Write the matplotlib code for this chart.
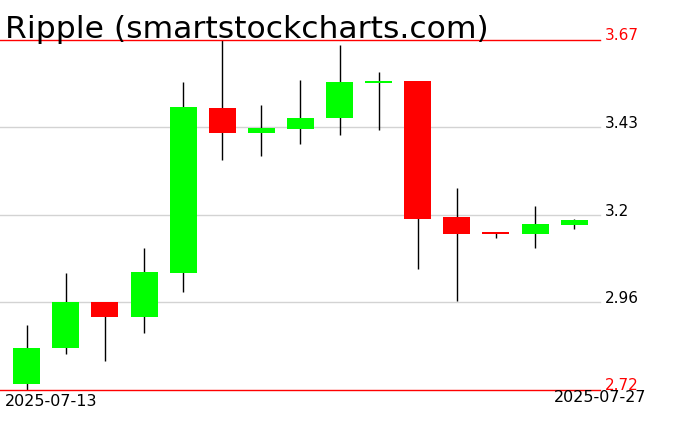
import matplotlib
matplotlib.use("Agg")
import matplotlib.pyplot as plt
from matplotlib.patches import Rectangle

W, H, DPI = 676, 431, 100

# OHLC
opens = [2.734, 2.832, 2.957, 2.916, 3.037, 3.485, 3.416, 3.427, 3.456, 3.552,
         3.557, 3.187, 3.146, 3.141, 3.166]
highs = [2.894, 3.035, 2.958, 3.103, 3.556, 3.670, 3.491, 3.561, 3.656, 3.583,
         3.558, 3.268, 3.147, 3.219, 3.182]
lows = [2.720, 2.816, 2.797, 2.873, 2.984, 3.342, 3.353, 3.386, 3.411, 3.424,
        3.046, 2.959, 3.131, 3.104, 3.155]
closes = [2.834, 2.957, 2.916, 3.038, 3.487, 3.416, 3.429, 3.458, 3.554, 3.556,
          3.184, 3.143, 3.143, 3.168, 3.179]

y_ticks = [3.67, 3.43, 3.2, 2.96, 2.72]
y_tick_values = [3.67, 3.4325, 3.195, 2.9575, 2.72]
date_labels = ["2025-07-13", "2025-07-27"]
title = "Ripple (smartstockcharts.com)"

fig = plt.figure(figsize=(W / DPI, H / DPI), dpi=DPI)

# axes covers pixel x 0..600, y 40..390
ax = fig.add_axes([0, (H - 390.5) / H, 600 / W, 350 / H])
ax.set_xlim(-26.7 / 39.1, (600 - 26.7) / 39.1)
ax.set_ylim(2.72, 3.67)
ax.axis("off")

px = 72 / DPI  # one pixel in points

for i, v in enumerate(y_tick_values):
    edge = i in (0, len(y_tick_values) - 1)
    color = "#ff0000" if edge else "#d3d3d3"
    ax.axhline(v, color=color, lw=1.4 * px, zorder=1 if not edge else 4,
               clip_on=False, snap=True)
    ax.text(605 / W, ax.transData.transform((0, v))[1] / H, str(y_ticks[i]),
            transform=fig.transFigure, color=color if edge else "black",
            fontsize=11, ha="left", va="baseline")

bw = 27 / 39.1
for i, (o, h, l, c) in enumerate(zip(opens, highs, lows, closes)):
    up = c >= o
    ax.plot([i, i], [l, h], color="black", lw=1.4 * px, zorder=2,
            solid_capstyle="butt", clip_on=False, snap=True)
    bottom = min(o, c)
    height = max(abs(c - o), 0.004)
    ax.add_patch(Rectangle((i - bw / 2, bottom), bw, height,
                           facecolor="#00ff00" if up else "#ff0000",
                           edgecolor="none", zorder=3))

fig.text(5 / W, 1 - 38 / H, title, fontsize=22.6, color="black",
         ha="left", va="baseline")
fig.text(5 / W, 1 - 406 / H, date_labels[0], fontsize=11.5, color="black",
         ha="left", va="baseline")
fig.text(646 / W, 1 - 402 / H, date_labels[1], fontsize=11.5, color="black",
         ha="right", va="baseline")

fig.savefig("out.png", dpi=DPI, facecolor="white")
